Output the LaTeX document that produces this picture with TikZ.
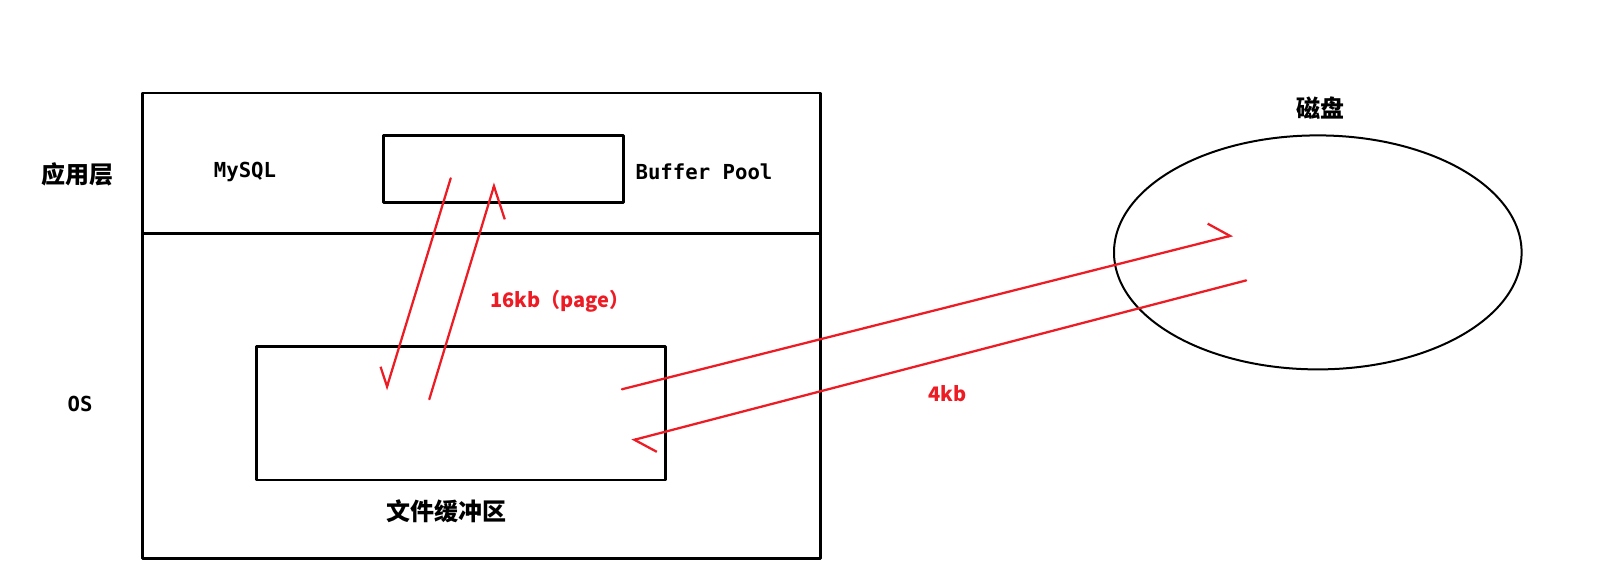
\documentclass[tikz,border=0pt]{standalone}
\usepackage{fontspec}
\setmainfont{Noto Sans CJK SC}
\newfontfamily\monofont{DejaVu Sans Mono}
\usetikzlibrary{arrows.meta,positioning}
\definecolor{penred}{RGB}{237,28,36}
\tikzset{
  cn/.style={font=\bfseries\fontsize{18}{20}\selectfont,inner sep=0pt},
  en/.style={font=\monofont\bfseries\fontsize{15.5}{18}\selectfont,inner sep=0pt},
  size/.style={text=penred,font=\bfseries\fontsize{15}{17}\selectfont,inner sep=0pt},
  flow/.style={draw=penred,line width=1.7pt},
}
\begin{document}
\begin{tikzpicture}[x=0.75pt,y=-0.75pt,line join=round,line cap=round,line width=2.1pt]
	\useasboundingbox (0,0) rectangle (1622,584);
	\coordinate (O1) at (142.7,93);
	\coordinate (O2) at (820.3,558.6);
	\coordinate (M1) at (142.7,233.8);
	\coordinate (M2) at (820.3,233.8);
	\coordinate (P1) at (383.8,135.5); % buffer pool
	\coordinate (P2) at (623.7,202.7);
	\coordinate (F1) at (256.5,346.5); % file cache
	\coordinate (F2) at (665.1,480);
	\coordinate (D) at (1317.8,252.4); % disk
	
	\draw (O1) rectangle (O2);
	\draw (M1)--(M2);
	\draw (P1) rectangle (P2);
	\draw (F1) rectangle (F2);
	\draw[line width=1.5pt] (D) ellipse [x radius=203.8, y radius=117];
	
	\node[cn] (app) at (77.7,174) {应用层};
	\node[en] (os) at (80,404) {OS};
	\node[en] (mysql) at (245,171.7) {MySQL};
	\node[en] (bp) at (704,171.7) {Buffer Pool};
	\node[cn] (fc) at (446.3,511.7) {文件缓冲区};
	\node[cn] (disk) at (1320.5,108.3) {磁盘};
	\node[size,anchor=west] (page) at (489,301) {16kb（page）};
	\node[size] (blk) at (947.5,394) {4kb};
	
	% page read / write
	\coordinate (r1) at (450.7,178.3);
	\coordinate (r2) at (386,390);
	\coordinate (w1) at (429.3,399.3);
	\coordinate (w2) at (495,182.7);
	\draw[flow,-{Straight Barb[harpoon,swap,length=12.8pt,width=18pt]}] (r1)--(r2);
	\draw[flow,-{Straight Barb[harpoon,swap,length=21.5pt,width=30pt]}] (w1)--(w2);
	
	% disk io
	\coordinate (s1) at (621.9,389.3);
	\coordinate (s2) at (1232.8,235.2);
	\coordinate (l1) at (1246.2,280.4);
	\coordinate (l2) at (631.6,440.5);
	\draw[flow,-{Straight Barb[harpoon,length=14pt,width=26pt]}] (s1)--(s2);
	\draw[flow,-{Straight Barb[harpoon,length=14pt,width=26pt]}] (l1)--(l2);
\end{tikzpicture}
\end{document}
